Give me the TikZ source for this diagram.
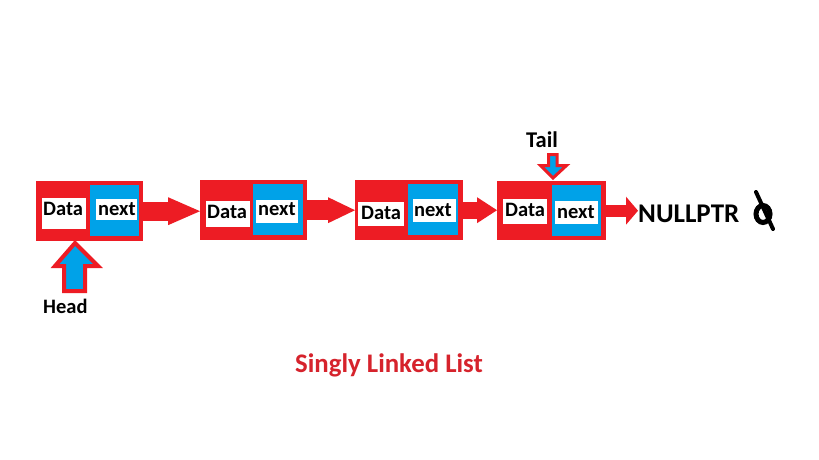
\documentclass[tikz,border=0pt]{standalone}
\usepackage{fontspec}
\setmainfont{Carlito}
\usetikzlibrary{arrows.meta}
\definecolor{pred}{RGB}{237,28,36}
\definecolor{pblue}{RGB}{0,162,232}
\definecolor{tred}{RGB}{214,35,44}
\begin{document}
\begin{tikzpicture}[x=1pt,y=-1pt,
  lbl/.style={inner sep=0pt, anchor=base west, font=\bfseries\fontsize{20.5pt}{24pt}\selectfont},
  outerbox/.style={fill=pred, inner sep=0pt, anchor=north west, minimum height=60pt},
  link/.style={draw=pred, line width=#1},
  ptr/.style={draw=pred, fill=pblue, line width=4pt, line join=miter}
]
\useasboundingbox[fill=white] (0,0) rectangle (819,460);

% list elements
\node[outerbox, minimum width=107pt] (n1) at (36,181) {};
\node[outerbox, minimum width=107pt] (n2) at (200,180) {};
\node[outerbox, minimum width=108pt] (n3) at (355,180) {};
\node[outerbox, minimum width=109pt, minimum height=59pt] (n4) at (497,181) {};

% next fields (blue)
\fill[pblue] (90,185) rectangle (139,236);
\fill[pblue] (253,184) rectangle (303,235);
\fill[pblue] (408,184) rectangle (458,235);
\fill[pblue] (552,185) rectangle (601,236);

% white label boxes
\fill[white] (42,198) rectangle (86,229);
\fill[white] (96,199) rectangle (137,220);
\fill[white] (206,201) rectangle (250,227);
\fill[white] (256,200) rectangle (298,223);
\fill[white] (358,202) rectangle (404,226);
\fill[white] (413,199) rectangle (456,222);
\fill[white] (503,199) rectangle (547,224);
\fill[white] (555,201) rectangle (598,224);

% labels
\node[lbl] (d1) at (43,215) {Data};
\node[lbl] (x1) at (98,215) {next};
\node[lbl] (d2) at (207,218) {Data};
\node[lbl] (x2) at (258,215) {next};
\node[lbl] (d3) at (361,219) {Data};
\node[lbl] (x3) at (414,216) {next};
\node[lbl] (d4) at (505,216) {Data};
\node[lbl] (x4) at (557,218) {next};

\node[lbl, font=\bfseries\fontsize{27pt}{31pt}\selectfont] (nullt) at (638,222) {NULLPTR};
\node[lbl] (head) at (43,313) {Head};
\node[lbl, font=\bfseries\fontsize{22.5pt}{26pt}\selectfont] (tail) at (526,147) {Tail};
\node[lbl, text=tred, font=\bfseries\fontsize{26.8pt}{30pt}\selectfont] (title) at (295,372) {Singly Linked List};

% links
\draw[link=19pt, -{Triangle[length=32pt,width=28pt,line width=0pt]}] (n1.east) -- (n1.east -| n2.west);
\draw[link=20pt, -{Triangle[length=27pt,width=26pt,line width=0pt]}] (n2.east) -- (n2.east -| n3.west);
\draw[link=17pt, -{Triangle[length=20pt,width=26pt,line width=0pt]}] (n3.east) -- (n3.east -| n4.west);
\draw[link=12pt, -{Triangle[length=12pt,width=28pt,line width=0pt]}] (n4.east) -- (n4.east -| nullt.west);

% null symbol
\draw[line width=5pt] (763,214) ellipse [x radius=7pt, y radius=8.5pt];
\draw[line width=4pt, line cap=round] (756,192) -- (773,229);

% head pointer
\draw[ptr] (75,243) -- (98,266) -- (85,266) -- (85,291) -- (64,291) -- (64,266) -- (55,266) -- cycle;
% tail pointer
\draw[ptr, line width=3pt] (553,178) -- (566.5,165.5) -- (557,165.5) -- (557,154.5) -- (548.5,154.5) -- (548.5,165.5) -- (540.5,165.5) -- cycle;
\end{tikzpicture}
\end{document}
